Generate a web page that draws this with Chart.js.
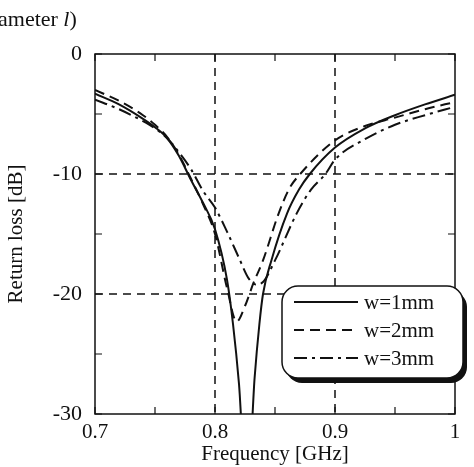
<!DOCTYPE html>
<html><head><meta charset="utf-8">
<script src="https://cdn.jsdelivr.net/npm/chart.js@4"></script>
<style>html,body{margin:0;padding:0;background:#fff}
#cap{position:absolute;left:-2px;top:6px;font:22px "Liberation Serif",serif;color:#111}
#wrap{position:absolute;left:0;top:0;width:474px;height:467px}</style>
</head><body>
<div id="wrap"><canvas id="c" width="474" height="467"></canvas></div>
<div id="cap">ameter <i>l</i>)</div>
<script>
const xTicks=[0.7,0.8,0.9,1.0];
const yTicks=[0,-10,-20,-30];
const seriesNames=['w=1mm','w=2mm','w=3mm'];
const f1=[0.70,0.72,0.74,0.75,0.76,0.77,0.78,0.79,0.80,0.81,0.815,0.82,0.824,0.829,0.833,0.837,0.84,0.847,0.86,0.87,0.879,0.90,0.925,0.95,0.975,1.0];
const w1=[-3.3,-4.2,-5.4,-6.1,-7.0,-8.5,-10.5,-12.4,-14.6,-18.8,-22.5,-27.5,-33,-33,-27,-22.5,-20,-17.2,-13.3,-11.3,-10,-7.8,-6.2,-5.1,-4.2,-3.4];
const f2=[0.70,0.72,0.74,0.75,0.76,0.77,0.78,0.79,0.80,0.81,0.818,0.825,0.832,0.84,0.853,0.862,0.871,0.90,0.925,0.95,0.975,1.0];
const w2=[-3.0,-3.9,-5.1,-5.9,-6.9,-8.4,-10.4,-12.5,-15.0,-19.5,-22.3,-21,-19.1,-17.2,-13.3,-11.2,-10,-7.2,-6.0,-5.3,-4.6,-4.0];
const f3=[0.70,0.72,0.74,0.75,0.76,0.77,0.78,0.79,0.80,0.81,0.82,0.828,0.834,0.84,0.85,0.868,0.88,0.892,0.90,0.925,0.95,0.975,1.0];
const w3=[-3.8,-4.6,-5.6,-6.2,-7.0,-8.2,-9.6,-11.4,-12.8,-14.8,-17.0,-18.7,-19.2,-19.0,-17.2,-13.3,-11.3,-10,-8.8,-7.1,-5.9,-5.1,-4.4];
const dashes=[[],[10,6],[13,5,3,5]];
const pts=(f,v)=>f.map((x,i)=>({x,y:v[i]}));
const FONT='"Liberation Serif", serif';
const deco={id:'deco',
 beforeDatasetsDraw(ch){const {ctx,chartArea:a,scales:{x,y}}=ch;ctx.save();
  ctx.strokeStyle='#111';ctx.lineWidth=1.5;ctx.setLineDash([8,6]);
  [0.8,0.9].forEach(v=>{const p=x.getPixelForValue(v);ctx.beginPath();ctx.moveTo(p,a.top);ctx.lineTo(p,a.bottom);ctx.stroke();});
  [-10,-20].forEach(v=>{const p=y.getPixelForValue(v);ctx.beginPath();ctx.moveTo(a.left,p);ctx.lineTo(a.right,p);ctx.stroke();});
  ctx.setLineDash([]);ctx.lineWidth=1.2;
  for(let v=0.7;v<=1.001;v+=0.05){const p=x.getPixelForValue(v);ctx.beginPath();ctx.moveTo(p,a.bottom);ctx.lineTo(p,a.bottom-7);ctx.moveTo(p,a.top);ctx.lineTo(p,a.top+7);ctx.stroke();}
  for(let v=-30;v<=0.001;v+=5){const p=y.getPixelForValue(v);ctx.beginPath();ctx.moveTo(a.left,p);ctx.lineTo(a.left+7,p);ctx.moveTo(a.right,p);ctx.lineTo(a.right-7,p);ctx.stroke();}
  ctx.restore();},
 afterDraw(ch){const {ctx,chartArea:a}=ch;ctx.save();
  ctx.lineWidth=1.5;ctx.strokeStyle='#111';ctx.strokeRect(a.left,a.top,a.right-a.left,a.bottom-a.top);
  const bx=282,by=286,bw=181,bh=92,r=16;
  const rr=(X,Y)=>{ctx.beginPath();ctx.roundRect(X,Y,bw,bh,r);};
  ctx.fillStyle='#111';rr(bx+4,by+5);ctx.fill();
  ctx.fillStyle='#fff';rr(bx,by);ctx.fill();ctx.stroke();
  ch.data.datasets.forEach((d,i)=>{const yy=by+16+i*28;ctx.setLineDash(dashes[i]);ctx.lineWidth=2;
   ctx.beginPath();ctx.moveTo(bx+12,yy);ctx.lineTo(bx+76,yy);ctx.stroke();ctx.setLineDash([]);
   ctx.fillStyle='#111';ctx.font='21px '+FONT;ctx.textBaseline='middle';ctx.fillText(d.label,bx+82,yy+1);});
  ctx.restore();}};
new Chart(document.getElementById('c'),{type:'line',
 data:{datasets:[pts(f1,w1),pts(f2,w2),pts(f3,w3)].map((p,i)=>({label:seriesNames[i],data:p,borderColor:'#111',borderWidth:2,borderDash:dashes[i],pointRadius:0,cubicInterpolationMode:'monotone',fill:false}))},
 options:{responsive:false,animation:false,clip:true,layout:{padding:{top:54,right:19,left:0,bottom:0}},
  plugins:{legend:{display:false},tooltip:{enabled:false}},
  scales:{
   x:{type:'linear',min:0.7,max:1.0,afterBuildTicks:s=>{s.ticks=xTicks.map(v=>({value:v}));},
      afterFit:s=>{s.height=53;},grid:{display:false},border:{display:false},
      ticks:{padding:-2,color:'#111',font:{family:FONT,size:21},callback:v=>v===1?'1':String(v)},
      title:{display:true,text:'Frequency [GHz]',color:'#111',font:{family:FONT,size:21},padding:{top:0,bottom:0}}},
   y:{min:-30,max:0,afterBuildTicks:s=>{s.ticks=yTicks.map(v=>({value:v}));},
      afterFit:s=>{s.width=95;},grid:{display:false},border:{display:false},
      ticks:{padding:5,color:'#111',font:{family:FONT,size:22}},
      title:{display:true,text:'Return loss [dB]',color:'#111',font:{family:FONT,size:21},padding:{bottom:4}}}}},
 plugins:[deco]});
</script></body></html>
